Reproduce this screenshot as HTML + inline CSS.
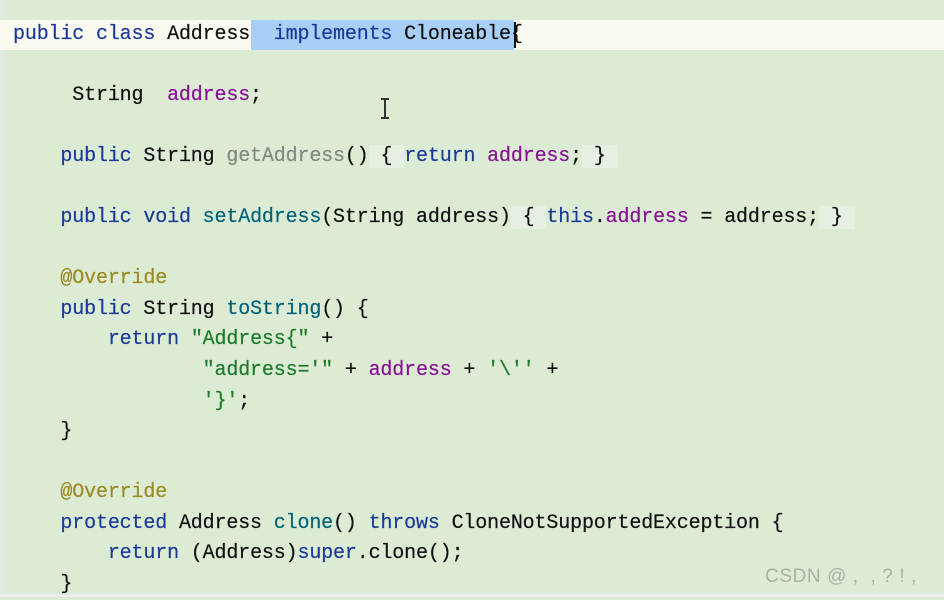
<!DOCTYPE html>
<html><head><meta charset="utf-8"><style>
body{margin:0;width:944px;height:597px;overflow:hidden;background:#dcebd3;position:relative;font-family:"Liberation Mono",monospace;}
.l{position:absolute;left:13px;height:30px;line-height:30px;font-size:20px;letter-spacing:-0.15px;white-space:pre;color:#101010;-webkit-text-stroke:0.2px currentColor;}
.k{color:#1a3a9a}.p{color:#871094}.m{color:#00627a}.g{color:#7f8a80}.s{color:#1c7a2a}.a{color:#9a8a20}
.hl{background:#e6f0e0}
#gut{position:absolute;left:0;top:0;width:5px;height:597px;background:#e4e8e2}
#cur{position:absolute;left:0;top:20px;width:944px;height:30px;background:#fbfaf0}
#sel{position:absolute;left:251px;top:20px;width:263px;height:30px;background:#a8cff5}
#caret{position:absolute;left:514px;top:22px;width:2px;height:26px;background:#111}
#bot{position:absolute;left:0;top:594px;width:944px;height:3px;background:#eee}
#wm{position:absolute;left:765px;top:566px;font-family:"Liberation Sans",sans-serif;font-size:19px;letter-spacing:0.6px;color:#a9b3a6;white-space:pre}
.ib{position:absolute;left:384px;top:98px;width:2px;height:21px;background:#333}
.ib:before,.ib:after{content:"";position:absolute;left:-3px;width:8px;height:2px;background:#333}
.ib:before{top:0}.ib:after{bottom:0}
</style></head><body>
<div id="gut"></div>
<div id="cur"></div>
<div id="sel"></div>
<div id="caret"></div>
<div class="l" style="top:20px"><span class="k">public class</span> Address  <span class="k">implements</span> Cloneable{</div>
<div class="l" style="top:81px">     String  <span class="p">address</span>;</div>
<div class="ib"></div>
<div class="l" style="top:142px">    <span class="k">public</span> String <span class="g">getAddress</span>()<span class="hl"> { </span><span class="k">return</span> <span class="p">address</span>;<span class="hl"> } </span></div>
<div class="l" style="top:203px">    <span class="k">public void</span> <span class="m">setAddress</span>(String address)<span class="hl"> { </span><span class="k">this</span>.<span class="p">address</span> = address;<span class="hl"> } </span></div>
<div class="l" style="top:264px">    <span class="a">@Override</span></div>
<div class="l" style="top:295px">    <span class="k">public</span> String <span class="m">toString</span>() {</div>
<div class="l" style="top:325px">        <span class="k">return</span> <span class="s">"Address{"</span> +</div>
<div class="l" style="top:356px">                <span class="s">"address='"</span> + <span class="p">address</span> + <span class="s">'\''</span> +</div>
<div class="l" style="top:387px">                <span class="s">'}'</span>;</div>
<div class="l" style="top:417px">    }</div>
<div class="l" style="top:478px">    <span class="a">@Override</span></div>
<div class="l" style="top:509px">    <span class="k">protected</span> Address <span class="m">clone</span>() <span class="k">throws</span> CloneNotSupportedException {</div>
<div class="l" style="top:539px">        <span class="k">return</span> (Address)<span class="k">super</span>.clone();</div>
<div class="l" style="top:570px">    }</div>
<div id="wm">CSDN @ ,  , ? ! ,</div>
<div id="bot"></div>
</body></html>
